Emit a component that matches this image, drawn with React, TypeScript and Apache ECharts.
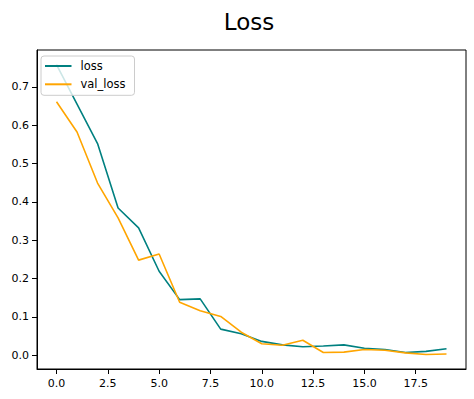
import React, { useEffect, useRef } from "react";
import * as echarts from "echarts";

const epochs = [0, 1, 2, 3, 4, 5, 6, 7, 8, 9, 10, 11, 12, 13, 14, 15, 16, 17, 18, 19];
const loss = [0.758, 0.655, 0.552, 0.384, 0.332, 0.219, 0.145, 0.147, 0.068, 0.056, 0.036, 0.027, 0.022, 0.024, 0.027, 0.018, 0.015, 0.007, 0.010, 0.017];
const valLoss = [0.661, 0.582, 0.449, 0.358, 0.248, 0.264, 0.138, 0.116, 0.101, 0.060, 0.030, 0.026, 0.039, 0.007, 0.008, 0.015, 0.013, 0.006, 0.002, 0.003];
const xTicks = [0, 2.5, 5, 7.5, 10, 12.5, 15, 17.5];
const yTicks = [0, 0.1, 0.2, 0.3, 0.4, 0.5, 0.6, 0.7];

const FONT = "DejaVu Sans";

export default function App() {
  const ref = useRef<HTMLDivElement>(null);
  useEffect(() => {
    if (!ref.current) return;
    const chart = echarts.init(ref.current, null, { renderer: "svg" });
    const axisCommon = {
      axisLine: { show: true, onZero: false, lineStyle: { color: "#000", width: 1 } },
      axisTick: { show: true, length: 5, lineStyle: { color: "#000", width: 1 } },
      splitLine: { show: false },
    };
    chart.setOption({
      animation: false,
      backgroundColor: "#fff",
      title: {
        text: "Loss",
        left: 244,
        top: 5,
        textAlign: "center",
        textStyle: { fontFamily: FONT, fontSize: 23, fontWeight: "normal", color: "#000" },
      },
      grid: {
        left: 37,
        top: 50,
        width: 429,
        height: 319,
        show: true,
        borderColor: "#000",
        borderWidth: 1,
        backgroundColor: "transparent",
      },
      legend: {
        left: 41,
        top: 56,
        orient: "vertical",
        backgroundColor: "rgba(255,255,255,0.8)",
        borderColor: "#ccc",
        borderWidth: 1,
        borderRadius: 3,
        padding: [2, 9, 3, 4],
        itemWidth: 26.5,
        itemHeight: 2,
        itemGap: 2.3,
        icon: "rect",
        textStyle: { fontFamily: FONT, fontSize: 11.5, color: "#000", lineHeight: 16, padding: [0, 0, 0, 4] },
        data: ["loss", "val_loss"],
      },
      xAxis: {
        type: "value",
        min: -0.95,
        max: 19.95,
        ...axisCommon,
        axisTick: { ...axisCommon.axisTick, customValues: xTicks },
        axisLabel: {
          customValues: xTicks,
          formatter: (v: number) => v.toFixed(1),
          fontFamily: FONT,
          fontSize: 11,
          color: "#000",
          margin: 9,
        },
      },
      yAxis: {
        type: "value",
        min: -0.036,
        max: 0.796,
        ...axisCommon,
        axisTick: { ...axisCommon.axisTick, customValues: yTicks },
        axisLabel: {
          customValues: yTicks,
          formatter: (v: number) => v.toFixed(1),
          fontFamily: FONT,
          fontSize: 11,
          color: "#000",
          margin: 8,
        },
      },
      series: [
        {
          name: "loss",
          type: "line",
          data: epochs.map((e, i) => [e, loss[i]]),
          showSymbol: false,
          symbol: "none",
          lineStyle: { color: "#008080", width: 1.6 },
          itemStyle: { color: "#008080" },
        },
        {
          name: "val_loss",
          type: "line",
          data: epochs.map((e, i) => [e, valLoss[i]]),
          showSymbol: false,
          symbol: "none",
          lineStyle: { color: "#FFA500", width: 1.6 },
          itemStyle: { color: "#FFA500" },
        },
      ],
    });
    return () => chart.dispose();
  }, []);
  return <div ref={ref} style={{ width: 474, height: 399, position: "absolute", left: 0, top: 0 }} />;
}
